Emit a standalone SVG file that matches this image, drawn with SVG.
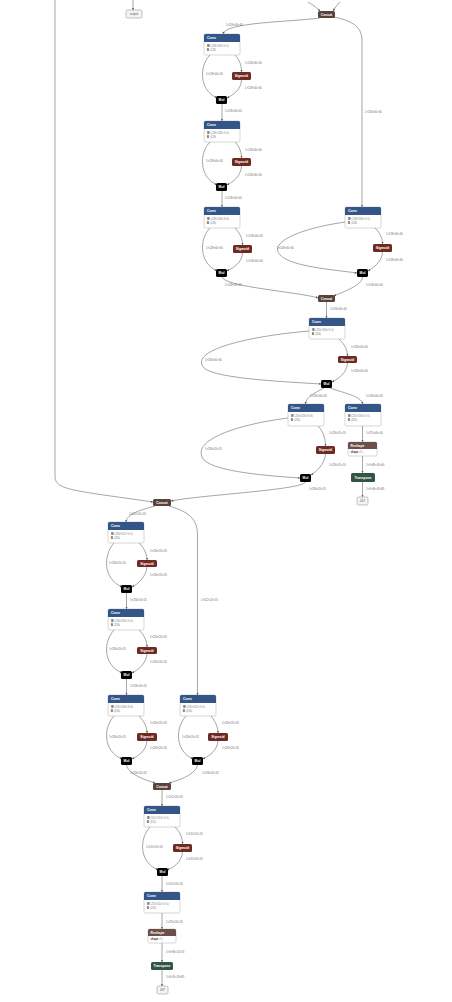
<svg xmlns="http://www.w3.org/2000/svg" width="452" height="1002" viewBox="0 0 452 1002">
<style>
.e{fill:none;stroke:#6a6a6a;stroke-width:0.6}
.l{font-family:"Liberation Sans",sans-serif;font-size:2.7px;fill:#666}
.cb{fill:#fff;stroke:#999;stroke-width:0.4}
.ch{fill:#335588}
.ht{font-family:"Liberation Sans",sans-serif;font-size:3.6px;font-weight:bold;fill:#fff}
.hc{font-family:"Liberation Sans",sans-serif;font-size:3.4px;font-weight:bold;fill:#fff;text-anchor:middle}
.at{font-family:"Liberation Sans",sans-serif;font-size:2.7px;fill:#777}
.ak{font-weight:bold;fill:#333}
.sg{fill:#702921}
.ml{fill:#000}
.cc{fill:#59423b}
.rs{fill:#6c4f47}
.tp{fill:#335544}
.ob{fill:#f4f4f4;stroke:#888;stroke-width:0.5}
.ot{font-family:"Liberation Sans",sans-serif;font-size:3px;fill:#555;text-anchor:middle}
</style>
<defs>
<marker id="a" viewBox="0 0 6 6" refX="6" refY="3" markerWidth="2.4" markerHeight="2.4" markerUnits="userSpaceOnUse" orient="auto"><path d="M0,0 L6,3 L0,6 Z" fill="#555"/></marker>
</defs>
<rect width="452" height="1002" fill="#fff"/>

<g id="edges">
<path class="e" marker-end="url(#a)" d="M133,0 L133,10"/>
<path class="e" marker-end="url(#a)" d="M308,2 C313,5 317,8 320,11"/>
<path class="e" marker-end="url(#a)" d="M340,2 C337,5 335,8 333,11"/>
<path class="e" marker-end="url(#a)" d="M55,0 L55,476 C55,490 70,490 153,502"/>
<!-- block A1 -->
<path class="e" marker-end="url(#a)" d="M320,18 C290,22 226,22 223,34"/>
<text class="l" x="226" y="26">1×256×40×40</text>
<path class="e" marker-end="url(#a)" d="M334,17 C358,22 362,30 362,42 L362,207"/>
<text class="l" x="365" y="113">1×256×40×40</text>
<path class="e" marker-end="url(#a)" d="M235,55 C240,60 241.5,66 241.5,72"/>
<text class="l" x="245" y="64">1×128×40×40</text>
<path class="e" marker-end="url(#a)" d="M210,55 C199,66 199,90 217,98"/>
<text class="l" x="206" y="75">1×128×40×40</text>
<path class="e" marker-end="url(#a)" d="M241.5,80 C241,90 233,95 227,98"/>
<text class="l" x="245" y="89">1×128×40×40</text>
<path class="e" marker-end="url(#a)" d="M222,104 L222,121"/>
<text class="l" x="225" y="112">1×128×40×40</text>
<!-- block A2 -->
<path class="e" marker-end="url(#a)" d="M235,142 C240,147 241.5,153 241.5,158"/>
<text class="l" x="245" y="151">1×128×40×40</text>
<path class="e" marker-end="url(#a)" d="M210,142 C199,153 199,177 217,185"/>
<text class="l" x="206" y="162">1×128×40×40</text>
<path class="e" marker-end="url(#a)" d="M241.5,166 C241,176 233,182 227,185"/>
<text class="l" x="245" y="176">1×128×40×40</text>
<path class="e" marker-end="url(#a)" d="M222,191 L222,207"/>
<text class="l" x="225" y="199">1×128×40×40</text>
<!-- block A3 -->
<path class="e" marker-end="url(#a)" d="M235,228 C240,233 242.5,239 242.5,245"/>
<text class="l" x="246" y="237">1×128×40×40</text>
<path class="e" marker-end="url(#a)" d="M210,228 C199,239 199,263 217,271"/>
<text class="l" x="206" y="249">1×128×40×40</text>
<path class="e" marker-end="url(#a)" d="M242.5,253 C242,263 233,268 227,271"/>
<text class="l" x="246" y="262">1×128×40×40</text>
<path class="e" marker-end="url(#a)" d="M222,277 C224,287 300,292 318,298"/>
<text class="l" x="225" y="286">1×128×40×40</text>
<!-- right conv4 -->
<path class="e" marker-end="url(#a)" d="M375,228 C380,233 382.5,238 382.5,244"/>
<text class="l" x="386" y="235">1×128×40×40</text>
<path class="e" marker-end="url(#a)" d="M346,222 C300,228 262,244 284,258 C298,267 335,270 357,273"/>
<text class="l" x="277" y="249">1×128×40×40</text>
<path class="e" marker-end="url(#a)" d="M382.5,252 C382,262 373,268 368,271"/>
<text class="l" x="386" y="261">1×128×40×40</text>
<path class="e" marker-end="url(#a)" d="M362.5,277 C362,286 342,292 334,296"/>
<text class="l" x="366" y="286">1×128×40×40</text>
<!-- conv5 block -->
<path class="e" marker-end="url(#a)" d="M326.5,302 L326.5,318"/>
<text class="l" x="330" y="310">1×256×40×40</text>
<path class="e" marker-end="url(#a)" d="M339,339 C345,345 347.5,350 347.5,356"/>
<text class="l" x="351" y="348">1×256×40×40</text>
<path class="e" marker-end="url(#a)" d="M309,331 C250,336 188,350 204,368 C216,379 290,382 321,384"/>
<text class="l" x="205" y="361">1×256×40×40</text>
<path class="e" marker-end="url(#a)" d="M347.5,363 C347,373 338,379 332,382"/>
<text class="l" x="351" y="372">1×256×40×40</text>
<path class="e" marker-end="url(#a)" d="M324,388 C317,392 306,396 305.5,404"/>
<text class="l" x="310" y="397">1×256×40×40</text>
<path class="e" marker-end="url(#a)" d="M330,388 C340,392 362,396 362.5,404"/>
<text class="l" x="366" y="397">1×256×40×40</text>
<!-- conv6 block -->
<path class="e" marker-end="url(#a)" d="M318,426 C324,432 325.5,440 325.5,446"/>
<text class="l" x="329" y="434">1×256×20×20</text>
<path class="e" marker-end="url(#a)" d="M288,418 C240,424 188,440 204,460 C216,472 270,476 300,478"/>
<text class="l" x="205" y="450">1×256×20×20</text>
<path class="e" marker-end="url(#a)" d="M325.5,454 C325,464 316,472 311,475"/>
<text class="l" x="329" y="466">1×256×20×20</text>
<path class="e" marker-end="url(#a)" d="M362.5,426 L362.5,442"/>
<text class="l" x="366" y="434">1×255×40×40</text>
<path class="e" marker-end="url(#a)" d="M362.5,456 L362.5,473"/>
<text class="l" x="366" y="466">1×3×85×40×40</text>
<path class="e" marker-end="url(#a)" d="M362.5,482 L362.5,497"/>
<text class="l" x="366" y="490">1×3×40×40×85</text>
<path class="e" marker-end="url(#a)" d="M305.5,482 C302,490 200,495 171,501"/>
<text class="l" x="309" y="490">1×256×20×20</text>
<!-- concat3 -->
<path class="e" marker-end="url(#a)" d="M155,506 C140,510 127,514 126,522"/>
<text class="l" x="129" y="515">1×512×20×20</text>
<path class="e" marker-end="url(#a)" d="M169,506 C190,512 197.5,520 197.5,535 L197.5,695"/>
<text class="l" x="201" y="601">1×512×20×20</text>
<!-- block B1 -->
<path class="e" marker-end="url(#a)" d="M139,543 C145,549 147,555 147,560"/>
<text class="l" x="150" y="552">1×256×20×20</text>
<path class="e" marker-end="url(#a)" d="M114,543 C103,555 103,579 122,587"/>
<text class="l" x="109" y="564">1×256×20×20</text>
<path class="e" marker-end="url(#a)" d="M147,567 C146,577 138,584 132,587"/>
<text class="l" x="150" y="576">1×256×20×20</text>
<path class="e" marker-end="url(#a)" d="M126.5,593 L126.5,609"/>
<text class="l" x="130" y="601">1×256×20×20</text>
<!-- block B2 -->
<path class="e" marker-end="url(#a)" d="M139,630 C145,636 147,642 147,647"/>
<text class="l" x="150" y="638">1×256×20×20</text>
<path class="e" marker-end="url(#a)" d="M114,630 C103,642 103,665 122,673"/>
<text class="l" x="109" y="650">1×256×20×20</text>
<path class="e" marker-end="url(#a)" d="M147,654 C146,664 138,670 132,673"/>
<text class="l" x="150" y="663">1×256×20×20</text>
<path class="e" marker-end="url(#a)" d="M126.5,679 L126.5,695"/>
<text class="l" x="130" y="687">1×256×20×20</text>
<!-- block B3 -->
<path class="e" marker-end="url(#a)" d="M139,716 C145,722 147,728 147,733"/>
<text class="l" x="150" y="724">1×256×20×20</text>
<path class="e" marker-end="url(#a)" d="M114,716 C103,728 103,751 122,759"/>
<text class="l" x="109" y="738">1×256×20×20</text>
<path class="e" marker-end="url(#a)" d="M147,741 C146,751 138,756 132,759"/>
<text class="l" x="150" y="749">1×256×20×20</text>
<!-- block B4 -->
<path class="e" marker-end="url(#a)" d="M211,716 C216,722 218,728 218,733"/>
<text class="l" x="222" y="724">1×256×20×20</text>
<path class="e" marker-end="url(#a)" d="M186,716 C175,728 175,751 193,759"/>
<text class="l" x="182" y="738">1×256×20×20</text>
<path class="e" marker-end="url(#a)" d="M218,741 C217,751 209,756 203,759"/>
<text class="l" x="222" y="749">1×256×20×20</text>
<path class="e" marker-end="url(#a)" d="M126.5,765 C128,774 145,780 155,783"/>
<text class="l" x="130" y="774">1×256×20×20</text>
<path class="e" marker-end="url(#a)" d="M197.5,765 C196,774 180,780 169,783"/>
<text class="l" x="202" y="774">1×256×20×20</text>
<!-- concat4 block -->
<path class="e" marker-end="url(#a)" d="M162,790 L162,806"/>
<text class="l" x="166" y="798">1×512×20×20</text>
<path class="e" marker-end="url(#a)" d="M175,827 C181,833 182.5,839 182.5,844"/>
<text class="l" x="186" y="835">1×512×20×20</text>
<path class="e" marker-end="url(#a)" d="M150,827 C139,839 139,862 158,870"/>
<text class="l" x="146" y="848">1×512×20×20</text>
<path class="e" marker-end="url(#a)" d="M182.5,852 C182,862 173,868 167,870"/>
<text class="l" x="186" y="860">1×512×20×20</text>
<path class="e" marker-end="url(#a)" d="M162,876 L162,892"/>
<text class="l" x="166" y="885">1×512×20×20</text>
<path class="e" marker-end="url(#a)" d="M162,913 L162,929"/>
<text class="l" x="166" y="923">1×255×20×20</text>
<path class="e" marker-end="url(#a)" d="M162,943 L162,962"/>
<text class="l" x="166" y="953">1×3×85×20×20</text>
<path class="e" marker-end="url(#a)" d="M162,970 L162,986"/>
<text class="l" x="166" y="978">1×3×20×20×85</text>
</g>

<g id="out_output"><rect class="ob" x="126" y="10" width="16" height="8" rx="1.5"/><text class="ot" x="134" y="15.1">output</text></g>
<g id="concat1" transform="translate(318,11)"><rect class="cc" width="17" height="7" rx="1.5"/><text class="hc" x="8.5" y="4.7">Concat</text></g>

<g id="conv1" transform="translate(204,34)"><rect class="cb" width="36" height="21" rx="1.5"/><path class="ch" d="M0,1.5 A1.5,1.5 0 0 1 1.5,0 H34.5 A1.5,1.5 0 0 1 36,1.5 V8 H0 Z"/><text class="ht" x="3" y="5.4">Conv</text><text class="at" x="3" y="12.8"><tspan class="ak">W</tspan> ⟨128×256×1×1⟩</text><text class="at" x="3" y="17.4"><tspan class="ak">B</tspan> ⟨128⟩</text></g>
<g id="sig1" transform="translate(232,72)"><rect class="sg" width="19" height="8" rx="1.5"/><text class="hc" x="9.5" y="5.2">Sigmoid</text></g>
<g id="mul1" transform="translate(216,96)"><rect class="ml" width="11" height="8" rx="1.5"/><text class="hc" x="5.5" y="5.2">Mul</text></g>

<g id="conv2" transform="translate(204,121)"><rect class="cb" width="36" height="21" rx="1.5"/><path class="ch" d="M0,1.5 A1.5,1.5 0 0 1 1.5,0 H34.5 A1.5,1.5 0 0 1 36,1.5 V8 H0 Z"/><text class="ht" x="3" y="5.4">Conv</text><text class="at" x="3" y="12.8"><tspan class="ak">W</tspan> ⟨128×128×1×1⟩</text><text class="at" x="3" y="17.4"><tspan class="ak">B</tspan> ⟨128⟩</text></g>
<g id="sig2" transform="translate(232,158)"><rect class="sg" width="19" height="8" rx="1.5"/><text class="hc" x="9.5" y="5.2">Sigmoid</text></g>
<g id="mul2" transform="translate(216,183)"><rect class="ml" width="11" height="8" rx="1.5"/><text class="hc" x="5.5" y="5.2">Mul</text></g>

<g id="conv3" transform="translate(204,207)"><rect class="cb" width="36" height="21" rx="1.5"/><path class="ch" d="M0,1.5 A1.5,1.5 0 0 1 1.5,0 H34.5 A1.5,1.5 0 0 1 36,1.5 V8 H0 Z"/><text class="ht" x="3" y="5.4">Conv</text><text class="at" x="3" y="12.8"><tspan class="ak">W</tspan> ⟨128×128×3×3⟩</text><text class="at" x="3" y="17.4"><tspan class="ak">B</tspan> ⟨128⟩</text></g>
<g id="sig3" transform="translate(233,245)"><rect class="sg" width="19" height="8" rx="1.5"/><text class="hc" x="9.5" y="5.2">Sigmoid</text></g>
<g id="mul3" transform="translate(216,269)"><rect class="ml" width="11" height="8" rx="1.5"/><text class="hc" x="5.5" y="5.2">Mul</text></g>

<g id="conv4" transform="translate(345,207)"><rect class="cb" width="36" height="21" rx="1.5"/><path class="ch" d="M0,1.5 A1.5,1.5 0 0 1 1.5,0 H34.5 A1.5,1.5 0 0 1 36,1.5 V8 H0 Z"/><text class="ht" x="3" y="5.4">Conv</text><text class="at" x="3" y="12.8"><tspan class="ak">W</tspan> ⟨128×256×1×1⟩</text><text class="at" x="3" y="17.4"><tspan class="ak">B</tspan> ⟨128⟩</text></g>
<g id="sig4" transform="translate(373,244)"><rect class="sg" width="19" height="8" rx="1.5"/><text class="hc" x="9.5" y="5.2">Sigmoid</text></g>
<g id="mul4" transform="translate(357,269)"><rect class="ml" width="11" height="8" rx="1.5"/><text class="hc" x="5.5" y="5.2">Mul</text></g>

<g id="concat2" transform="translate(318,295)"><rect class="cc" width="17" height="7" rx="1.5"/><text class="hc" x="8.5" y="4.7">Concat</text></g>
<g id="conv5" transform="translate(309,318)"><rect class="cb" width="36" height="21" rx="1.5"/><path class="ch" d="M0,1.5 A1.5,1.5 0 0 1 1.5,0 H34.5 A1.5,1.5 0 0 1 36,1.5 V8 H0 Z"/><text class="ht" x="3" y="5.4">Conv</text><text class="at" x="3" y="12.8"><tspan class="ak">W</tspan> ⟨256×256×1×1⟩</text><text class="at" x="3" y="17.4"><tspan class="ak">B</tspan> ⟨256⟩</text></g>
<g id="sig5" transform="translate(338,356)"><rect class="sg" width="19" height="7" rx="1.5"/><text class="hc" x="9.5" y="4.8">Sigmoid</text></g>
<g id="mul5" transform="translate(321,380)"><rect class="ml" width="11" height="8" rx="1.5"/><text class="hc" x="5.5" y="5.2">Mul</text></g>

<g id="conv6" transform="translate(288,404)"><rect class="cb" width="36" height="22" rx="1.5"/><path class="ch" d="M0,1.5 A1.5,1.5 0 0 1 1.5,0 H34.5 A1.5,1.5 0 0 1 36,1.5 V8 H0 Z"/><text class="ht" x="3" y="5.4">Conv</text><text class="at" x="3" y="12.8"><tspan class="ak">W</tspan> ⟨256×256×3×3⟩</text><text class="at" x="3" y="17.4"><tspan class="ak">B</tspan> ⟨256⟩</text></g>
<g id="conv7" transform="translate(345,404)"><rect class="cb" width="36" height="22" rx="1.5"/><path class="ch" d="M0,1.5 A1.5,1.5 0 0 1 1.5,0 H34.5 A1.5,1.5 0 0 1 36,1.5 V8 H0 Z"/><text class="ht" x="3" y="5.4">Conv</text><text class="at" x="3" y="12.8"><tspan class="ak">W</tspan> ⟨255×256×1×1⟩</text><text class="at" x="3" y="17.4"><tspan class="ak">B</tspan> ⟨255⟩</text></g>
<g id="sig6" transform="translate(316,446)"><rect class="sg" width="19" height="8" rx="1.5"/><text class="hc" x="9.5" y="5.2">Sigmoid</text></g>
<g id="mul6" transform="translate(300,474)"><rect class="ml" width="11" height="8" rx="1.5"/><text class="hc" x="5.5" y="5.2">Mul</text></g>
<g id="reshape1" transform="translate(348,442)"><rect class="cb" width="29" height="14" rx="1.5"/><path class="rs" d="M0,1.5 A1.5,1.5 0 0 1 1.5,0 H27.5 A1.5,1.5 0 0 1 29,1.5 V7 H0 Z"/><text class="ht" x="2.5" y="4.9" style="font-size:3.3px">Reshape</text><text class="at" x="2.5" y="11.3"><tspan class="ak">shape</tspan> ⟨5⟩</text></g>
<g id="transpose1" transform="translate(351,473)"><rect class="tp" width="24" height="9" rx="1.5"/><text class="hc" x="12" y="5.6">Transpose</text></g>
<g id="out_417"><rect class="ob" x="357" y="497" width="11" height="8" rx="1.5"/><text class="ot" x="362.5" y="502.1">417</text></g>

<g id="concat3" transform="translate(153,499)"><rect class="cc" width="18" height="7" rx="1.5"/><text class="hc" x="9" y="4.7">Concat</text></g>

<g id="conv8" transform="translate(108,522)"><rect class="cb" width="36" height="21" rx="1.5"/><path class="ch" d="M0,1.5 A1.5,1.5 0 0 1 1.5,0 H34.5 A1.5,1.5 0 0 1 36,1.5 V8 H0 Z"/><text class="ht" x="3" y="5.4">Conv</text><text class="at" x="3" y="12.8"><tspan class="ak">W</tspan> ⟨256×512×1×1⟩</text><text class="at" x="3" y="17.4"><tspan class="ak">B</tspan> ⟨256⟩</text></g>
<g id="sig7" transform="translate(137,560)"><rect class="sg" width="20" height="7" rx="1.5"/><text class="hc" x="10" y="4.8">Sigmoid</text></g>
<g id="mul7" transform="translate(121,585)"><rect class="ml" width="11" height="8" rx="1.5"/><text class="hc" x="5.5" y="5.2">Mul</text></g>

<g id="conv9" transform="translate(108,609)"><rect class="cb" width="36" height="21" rx="1.5"/><path class="ch" d="M0,1.5 A1.5,1.5 0 0 1 1.5,0 H34.5 A1.5,1.5 0 0 1 36,1.5 V8 H0 Z"/><text class="ht" x="3" y="5.4">Conv</text><text class="at" x="3" y="12.8"><tspan class="ak">W</tspan> ⟨256×256×1×1⟩</text><text class="at" x="3" y="17.4"><tspan class="ak">B</tspan> ⟨256⟩</text></g>
<g id="sig8" transform="translate(137,647)"><rect class="sg" width="20" height="7" rx="1.5"/><text class="hc" x="10" y="4.8">Sigmoid</text></g>
<g id="mul8" transform="translate(121,671)"><rect class="ml" width="11" height="8" rx="1.5"/><text class="hc" x="5.5" y="5.2">Mul</text></g>

<g id="conv10" transform="translate(108,695)"><rect class="cb" width="36" height="21" rx="1.5"/><path class="ch" d="M0,1.5 A1.5,1.5 0 0 1 1.5,0 H34.5 A1.5,1.5 0 0 1 36,1.5 V8 H0 Z"/><text class="ht" x="3" y="5.4">Conv</text><text class="at" x="3" y="12.8"><tspan class="ak">W</tspan> ⟨256×256×3×3⟩</text><text class="at" x="3" y="17.4"><tspan class="ak">B</tspan> ⟨256⟩</text></g>
<g id="sig9" transform="translate(137,733)"><rect class="sg" width="20" height="8" rx="1.5"/><text class="hc" x="10" y="5.2">Sigmoid</text></g>
<g id="mul9" transform="translate(121,757)"><rect class="ml" width="11" height="8" rx="1.5"/><text class="hc" x="5.5" y="5.2">Mul</text></g>

<g id="conv11" transform="translate(180,695)"><rect class="cb" width="36" height="21" rx="1.5"/><path class="ch" d="M0,1.5 A1.5,1.5 0 0 1 1.5,0 H34.5 A1.5,1.5 0 0 1 36,1.5 V8 H0 Z"/><text class="ht" x="3" y="5.4">Conv</text><text class="at" x="3" y="12.8"><tspan class="ak">W</tspan> ⟨256×512×1×1⟩</text><text class="at" x="3" y="17.4"><tspan class="ak">B</tspan> ⟨256⟩</text></g>
<g id="sig10" transform="translate(208,733)"><rect class="sg" width="20" height="8" rx="1.5"/><text class="hc" x="10" y="5.2">Sigmoid</text></g>
<g id="mul10" transform="translate(192,757)"><rect class="ml" width="11" height="8" rx="1.5"/><text class="hc" x="5.5" y="5.2">Mul</text></g>

<g id="concat4" transform="translate(153,783)"><rect class="cc" width="18" height="7" rx="1.5"/><text class="hc" x="9" y="4.7">Concat</text></g>
<g id="conv12" transform="translate(144,806)"><rect class="cb" width="36" height="21" rx="1.5"/><path class="ch" d="M0,1.5 A1.5,1.5 0 0 1 1.5,0 H34.5 A1.5,1.5 0 0 1 36,1.5 V8 H0 Z"/><text class="ht" x="3" y="5.4">Conv</text><text class="at" x="3" y="12.8"><tspan class="ak">W</tspan> ⟨512×512×1×1⟩</text><text class="at" x="3" y="17.4"><tspan class="ak">B</tspan> ⟨512⟩</text></g>
<g id="sig11" transform="translate(173,844)"><rect class="sg" width="19" height="8" rx="1.5"/><text class="hc" x="9.5" y="5.2">Sigmoid</text></g>
<g id="mul11" transform="translate(157,868)"><rect class="ml" width="11" height="8" rx="1.5"/><text class="hc" x="5.5" y="5.2">Mul</text></g>
<g id="conv13" transform="translate(144,892)"><rect class="cb" width="36" height="21" rx="1.5"/><path class="ch" d="M0,1.5 A1.5,1.5 0 0 1 1.5,0 H34.5 A1.5,1.5 0 0 1 36,1.5 V8 H0 Z"/><text class="ht" x="3" y="5.4">Conv</text><text class="at" x="3" y="12.8"><tspan class="ak">W</tspan> ⟨255×512×1×1⟩</text><text class="at" x="3" y="17.4"><tspan class="ak">B</tspan> ⟨255⟩</text></g>
<g id="reshape2" transform="translate(148,929)"><rect class="cb" width="28" height="14" rx="1.5"/><path class="rs" d="M0,1.5 A1.5,1.5 0 0 1 1.5,0 H26.5 A1.5,1.5 0 0 1 28,1.5 V7 H0 Z"/><text class="ht" x="2.5" y="4.9" style="font-size:3.3px">Reshape</text><text class="at" x="2.5" y="11.3"><tspan class="ak">shape</tspan> ⟨5⟩</text></g>
<g id="transpose2" transform="translate(151,962)"><rect class="tp" width="22" height="8" rx="1.5"/><text class="hc" x="11" y="5.2">Transpose</text></g>
<g id="out_437"><rect class="ob" x="157" y="986" width="11" height="8" rx="1.5"/><text class="ot" x="162.5" y="991.1">437</text></g>
</svg>
